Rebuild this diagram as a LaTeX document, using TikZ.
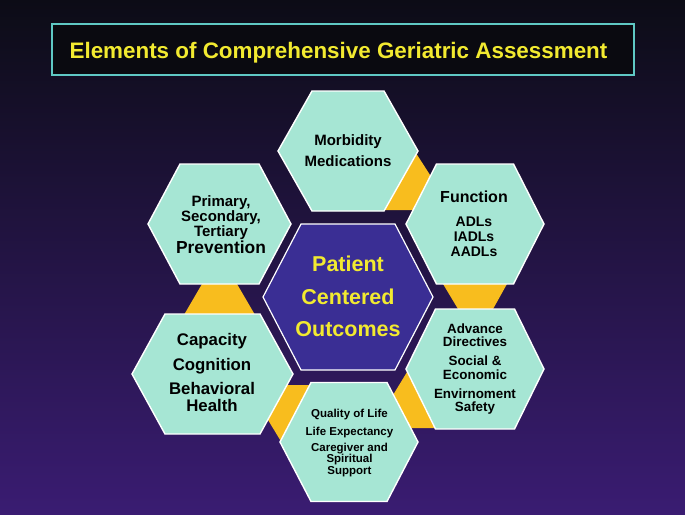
\documentclass[tikz,border=0pt]{standalone}
\usepackage{fontspec}
\setmainfont{Liberation Sans}
\definecolor{mint}{HTML}{A6E6D4}
\definecolor{gold}{HTML}{F8BD1E}
\definecolor{ctr}{HTML}{3A2E94}
\definecolor{ttl}{HTML}{F2EA30}
\definecolor{tealb}{HTML}{5FC8C4}
\definecolor{bgtop}{HTML}{0C0C16}
\definecolor{bgmid}{HTML}{1F1849}
\definecolor{bgbot}{HTML}{3A1C72}
\definecolor{boxfill}{HTML}{0A0A10}
\newcommand\hexat[5]{(#1-#3,#2) -- (#1-#4,#2-#5) -- (#1+#4,#2-#5) -- (#1+#3,#2) -- (#1+#4,#2+#5) -- (#1-#4,#2+#5) -- cycle}
\newcommand\fsz[1]{\fontsize{#1}{#1}\selectfont\bfseries}
\tikzset{
  hexfill/.style={fill=mint, draw=white, line width=1.4pt},
  ctrfill/.style={fill=ctr, draw=white, line width=1.2pt},
  bridge/.style={fill=gold},
  txt/.style={anchor=base, inner sep=0pt, text=black},
  ytxt/.style={anchor=base, inner sep=0pt, text=ttl}
}
\begin{document}
\begin{tikzpicture}[x=1pt,y=-1pt]
\useasboundingbox (0,0) rectangle (685,514);
\shade[top color=bgtop, middle color=bgmid, bottom color=bgbot] (0,0) rectangle (685,514);

% title
\node[draw=tealb, fill=boxfill, line width=2pt, minimum width=582pt, minimum height=51pt, inner sep=0pt] (titlebox) at (342.75,49.5) {};
\node[ytxt, font=\fsz{22.4}] (title) at (338.5,58) {Elements of Comprehensive Geriatric Assessment};

% yellow bridges
\fill[bridge] (414,150) -- (440,190.5) -- (430,210) -- (380,210) -- cycle;
\fill[bridge] (440.6,280) -- (509.2,280) -- (490.8,313) -- (460.4,313) -- cycle;
\fill[bridge] (410.7,366) -- (445,366) -- (445,428) -- (405,428) -- (390,400) -- cycle;
\fill[bridge] (280,385) -- (318,385) -- (300,450) -- (285,448) -- (262,410) -- cycle;
\fill[bridge] (205.5,278) -- (233.5,278) -- (258,320) -- (181,320) -- cycle;

% hexagons
\filldraw[hexfill] \hexat{348}{151}{70}{36}{60};
\filldraw[hexfill] \hexat{475}{224}{69}{38.5}{60};
\filldraw[hexfill] \hexat{219.5}{224}{71.5}{39.5}{60};
\filldraw[hexfill] \hexat{212.5}{374}{80.5}{47.5}{60};
\filldraw[hexfill] \hexat{475}{369}{69}{39.5}{60};
\filldraw[hexfill] \hexat{349}{442}{69}{38}{59.5};
\filldraw[ctrfill] \hexat{348}{297}{85}{47}{73};

% top
\node[txt, font=\fsz{15}] (morb) at (348,145.3) {Morbidity};
\node[txt, font=\fsz{15}] (medi) at (348,166.7) {Medications};
% function
\node[txt, font=\fsz{16}] (func) at (474,202) {Function};
\node[txt, font=\fsz{14}] (adl) at (474,226) {ADLs};
\node[txt, font=\fsz{14}] (iadl) at (474,241) {IADLs};
\node[txt, font=\fsz{14}] (aadl) at (474,256) {AADLs};
% prevention
\node[txt, font=\fsz{15}] (prim) at (221,206) {Primary,};
\node[txt, font=\fsz{15}] (seco) at (221,221) {Secondary,};
\node[txt, font=\fsz{15}] (tert) at (221,236) {Tertiary};
\node[txt, font=\fsz{17.4}] (prev) at (221,253.3) {Prevention};
% center
\node[ytxt, font=\fsz{21.5}] (pat) at (348,271.7) {Patient};
\node[ytxt, font=\fsz{21.5}] (cen) at (348,304) {Centered};
\node[ytxt, font=\fsz{21.5}] (out) at (348,336.7) {Outcomes};
% capacity
\node[txt, font=\fsz{16.8}] (capa) at (212,345) {Capacity};
\node[txt, font=\fsz{16.8}] (cogn) at (212,370) {Cognition};
\node[txt, font=\fsz{16.8}] (beha) at (212,394) {Behavioral};
\node[txt, font=\fsz{16.8}] (heal) at (212,411.7) {Health};
% advance
\node[txt, font=\fsz{13.4}] (adva) at (475,333.3) {Advance};
\node[txt, font=\fsz{13.4}] (dire) at (475,346.7) {Directives};
\node[txt, font=\fsz{13.4}] (soci) at (475,365) {Social \&};
\node[txt, font=\fsz{13.4}] (econ) at (475,379.3) {Economic};
\node[txt, font=\fsz{13.4}] (envi) at (475,398.3) {Envirnoment};
\node[txt, font=\fsz{13.4}] (safe) at (475,411.7) {Safety};
% quality
\node[txt, font=\fsz{11.5}] (qual) at (349.5,417.7) {Quality of Life};
\node[txt, font=\fsz{11.5}] (life) at (349.5,435) {Life Expectancy};
\node[txt, font=\fsz{11.5}] (care) at (349.5,451) {Caregiver and};
\node[txt, font=\fsz{11.5}] (spir) at (349.5,462.3) {Spiritual};
\node[txt, font=\fsz{11.5}] (supp) at (349.5,474) {Support};
\end{tikzpicture}
\end{document}
